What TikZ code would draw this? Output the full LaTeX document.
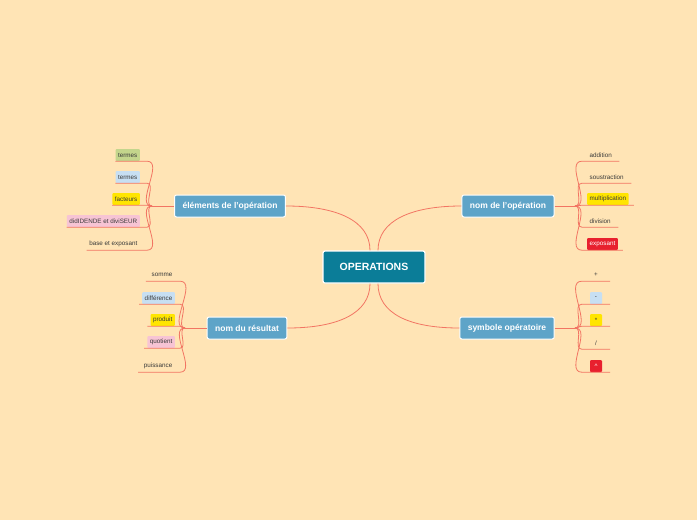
\documentclass[tikz,border=0pt]{standalone}
\usepackage{fontspec}
\setmainfont{Liberation Sans}
\begin{document}
\begin{tikzpicture}[x=1pt,y=-1pt,
  lk/.style={draw=linec,line width=0.8pt},
  br/.style={fill=brc,draw=white,line width=1pt,rounded corners=2pt,text=white,font=\fontsize{8.5}{10}\selectfont\bfseries,minimum height=22,inner xsep=8},
  leaf/.style={font=\fontsize{6.3}{7}\selectfont,text=txt,inner sep=2.5,minimum height=12,rounded corners=1pt}]
\definecolor{bg}{HTML}{FFE4B5}
\definecolor{linec}{HTML}{F27563}
\definecolor{brc}{HTML}{5EA4C8}
\definecolor{ctr}{HTML}{0B7D98}
\definecolor{txt}{HTML}{3A3A3A}
\definecolor{cg}{HTML}{C3D58C}
\definecolor{cb}{HTML}{C7DFF2}
\definecolor{cy}{HTML}{FFE500}
\definecolor{cp}{HTML}{F7C4D4}
\definecolor{cr}{HTML}{E8202E}
\fill[bg] (0,0) rectangle (697,520);
\useasboundingbox (0,0) rectangle (697,520);
\node[fill=ctr,draw=white,line width=1.2pt,rounded corners=2pt,text=white,font=\fontsize{10.5}{12}\selectfont\bfseries,minimum width=102,minimum height=32] (c) at (374,267) {OPERATIONS};
\node[br] (b1) at (230,206) {éléments de l'opération};
\node[br] (b2) at (508,206) {nom de l'opération};
\node[br] (b3) at (247,328) {nom du résultat};
\node[br] (b4) at (507,328) {symbole opératoire};
\draw[lk] (c.north) ++(-4,0) .. controls +(0,-30) and +(50,0) .. (b1.east);
\draw[lk] (c.north) ++(4,0) .. controls +(0,-30) and +(-50,0) .. (b2.west);
\draw[lk] (c.south) ++(-4,0) .. controls +(0,30) and +(50,0) .. (b3.east);
\draw[lk] (c.south) ++(4,0) .. controls +(0,30) and +(-50,0) .. (b4.west);
% left top leaves
\coordinate (f1) at (152,206);
\draw[lk] (b1.west) -- (f1);
\foreach \n/\t/\c/\y in {a/termes/cg/155,b/termes/cb/177,c/facteurs/cy/199,d/didIDENDE et diviSEUR/cp/221,e/base et exposant/bg/244}{
  \node[leaf,fill=\c,anchor=east] (l1\n) at (140,\y) {\t};
  \draw[lk] (f1) to[out=180,in=0] ([xshift=7]l1\n.south east) -- (l1\n.south west);
}
% right top
\coordinate (f2) at (575,206);
\draw[lk] (b2.east) -- (f2);
\foreach \n/\t/\c/\tc/\y in {a/addition/bg/txt/155,b/soustraction/bg/txt/177,c/multiplication/cy/txt/199,d/division/bg/txt/221,e/exposant/cr/white/244}{
  \node[leaf,fill=\c,text=\tc,anchor=west] (l2\n) at (587,\y) {\t};
  \draw[lk] (f2) to[out=0,in=180] ([xshift=-5]l2\n.south west) -- ([xshift=5]l2\n.south east);
}
% left bottom
\coordinate (f3) at (185,328);
\draw[lk] (b3.west) -- (f3);
\foreach \n/\t/\c/\y in {a/somme/bg/275,b/différence/cb/298,c/produit/cy/320,d/quotient/cp/342,e/puissance/bg/366}{
  \node[leaf,fill=\c,anchor=east] (l3\n) at (175,\y) {\t};
  \draw[lk] (f3) to[out=180,in=0] ([xshift=5]l3\n.south east) -- ([xshift=-3]l3\n.south west);
}
% right bottom
\coordinate (f4) at (575,328);
\draw[lk] (b4.east) -- (f4);
\foreach \n/\t/\c/\tc/\y in {a/+/bg/txt/275,b/-/cb/txt/298,c/*/cy/txt/320,d/\slash/bg/txt/343,e/\^{}/cr/white/366}{
  \node[leaf,fill=\c,text=\tc,minimum width=12] (l4\n) at (596,\y) {\t};
  \draw[lk] (f4) to[out=0,in=180] ([xshift=-8]l4\n.south west) -- ([xshift=8]l4\n.south east);
}
\end{tikzpicture}
\end{document}
